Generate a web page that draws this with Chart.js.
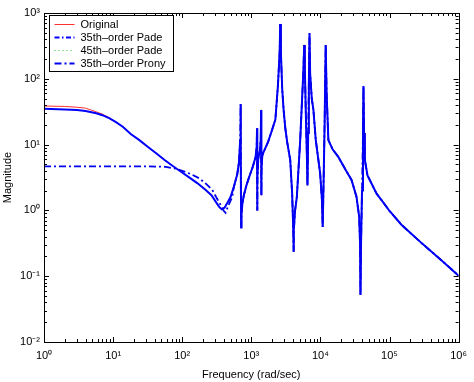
<!DOCTYPE html>
<html>
<head>
<meta charset="utf-8">
<script src="https://cdn.jsdelivr.net/npm/chart.js@4"></script>
<style>
    body { margin: 0; background: #fff; }
    #wrap { width: 474px; height: 382px; }
</style>
</head>
<body>
<div id="wrap"><canvas id="magChart" width="474" height="382"></canvas></div>
<script>
// frequency points (rad/sec) shared by the original and Pade curves
const freqs = [
    1, 2, 3, 4, 5.7, 7, 8.9, 11, 13.8, 18,
    24, 32, 42, 55, 73, 95, 126, 165, 219, 265,
    305, 345, 373, 410, 460, 502, 560, 625, 665, 690,
    699, 706, 713, 722, 745, 780, 850, 920, 1050, 1150,
    1195, 1210, 1216, 1220, 1230, 1260, 1330, 1370, 1384, 1392,
    1398, 1410, 1440, 1514, 1750, 1995, 2230, 2430, 2570, 2620,
    2680, 2800, 2935, 3100, 3300, 3660, 3900, 4050, 4090, 4130,
    4300, 4560, 5100, 5380, 5650, 5830, 5950, 6150, 6350, 6500,
    6650, 6800, 6950, 7100, 7500, 7920, 8570, 9910, 10500, 10790,
    11100, 11500, 11920, 12300, 13040, 15000, 18150, 23000, 28200, 33270,
    36400, 37500, 38000, 38700, 40000, 41300, 42000, 42800, 44000, 48000,
    54700, 65000, 80000, 100000, 150000, 300000, 600000, 1000000
];

// magnitude of the Pade fits
const padeMag = [
    35, 34.3, 33.5, 32.3, 29.9, 28, 25, 22, 18.7, 14.5,
    11.7, 9.2, 7.4, 5.9, 4.73, 3.9, 3.18, 2.6, 2.04, 1.7,
    1.36, 1.12, 1.04, 1.1, 1.35, 1.61, 2.3, 3.5, 5.5, 12,
    41, 8, 0.55, 0.9, 1.3, 1.7, 2.4, 3.1, 4.6, 6.4,
    9, 17.7, 3, 1.0, 3, 6.1, 8, 12, 33.6, 4,
    1.7, 4, 6.8, 7.8, 11, 16.7, 24, 80, 250, 681,
    250, 70, 33.6, 18, 11, 5.8, 1.8, 0.5, 0.236, 0.5,
    1.0, 1.61, 11.7, 40, 120, 327, 150, 30, 8, 2.4,
    15, 80, 491, 120, 50, 33.6, 11.7, 3.67, 1.5, 0.56,
    2.5, 20, 327, 60, 11.7, 8.5, 6.5, 4.2, 2.9, 1.61,
    0.8, 0.3, 0.052, 0.3, 2, 15, 77.8, 15, 5.8, 3.4,
    2.58, 1.8, 1.35, 0.98, 0.6, 0.31, 0.165, 0.102
];

// the original sits a bit higher at the lowest frequencies
const origMagLow = [38.6, 38, 37, 35.8, 31.5, 29, 25.5];

// Prony fit differs below ~560 rad/sec
const pronyFreqLow = [1, 10, 30, 58, 81, 100, 130, 176, 220, 273, 320, 360, 400, 425, 460, 530];
const pronyMagLow = [4.68, 4.68, 4.66, 4.6, 4.3, 4.0, 3.6, 3.08, 2.55, 2.04, 1.5, 1.21, 0.98, 0.92, 1.15, 1.61];

const xTickValues = [1, 10, 100, 1000, 10000, 100000, 1000000];
const xTickLabels = ['10\u2070', '10\u00b9', '10\u00b2', '10\u00b3', '10\u2074', '10\u2075', '10\u2076'];
const yTickValues = [0.01, 0.1, 1, 10, 100, 1000];
const yTickLabels = ['10\u207b\u00b2', '10\u207b\u00b9', '10\u2070', '10\u00b9', '10\u00b2', '10\u00b3'];

const FONT = "'Liberation Sans', Arial, Helvetica, sans-serif";

function toPoints(xs, ys) {
    return xs.map((x, i) => ({x: x, y: ys[i]}));
}

const origMag = origMagLow.concat(padeMag.slice(origMagLow.length));
const cut = freqs.indexOf(560);
const pronyFreq = pronyFreqLow.concat(freqs.slice(cut));
const pronyMag = pronyMagLow.concat(padeMag.slice(cut));

const series = [
    {label: 'Original', data: toPoints(freqs, origMag), color: '#ff3030', width: 1, dash: [], order: 4},
    {label: '35th\u2013order Pade', data: toPoints(freqs, padeMag), color: '#0000ff', width: 2, dash: [], order: 2,
        legendDash: [5, 2.5, 1.5, 2.5]},
    {label: '45th\u2013order Pade', data: toPoints(freqs, padeMag), color: '#33cc33', width: 1, dash: [1, 3], order: 3},
    {label: '35th\u2013order Prony', data: toPoints(pronyFreq, pronyMag), color: '#0000ee', width: 1.8, dash: [7, 3, 2, 3], order: 1}
];

// box, inward ticks on all four sides, and the legend
const framePlugin = {
    id: 'frame',
    afterDraw(chart) {
        const ctx = chart.ctx;
        const a = chart.chartArea;
        const xs = chart.scales.x, ys = chart.scales.y;
        ctx.save();
        ctx.strokeStyle = '#000';
        ctx.lineWidth = 1;

        ctx.beginPath();
        for (let d = 0; d < 6; d++) {
            for (let k = 1; k <= 9; k++) {
                const v = Math.pow(10, d) * k;
                const px = Math.round(xs.getPixelForValue(v)) + 0.5;
                const len = k === 1 ? 5 : 3;
                ctx.moveTo(px, a.bottom); ctx.lineTo(px, a.bottom - len);
                ctx.moveTo(px, a.top); ctx.lineTo(px, a.top + len);
            }
        }
        for (let d = -2; d < 3; d++) {
            for (let k = 1; k <= 9; k++) {
                const v = Math.pow(10, d) * k;
                const py = Math.round(ys.getPixelForValue(v)) + 0.5;
                const len = k === 1 ? 5 : 3;
                ctx.moveTo(a.left, py); ctx.lineTo(a.left + len, py);
                ctx.moveTo(a.right, py); ctx.lineTo(a.right - len, py);
            }
        }
        ctx.stroke();
        ctx.strokeRect(Math.round(a.left) + 0.5, Math.round(a.top) + 0.5,
            Math.round(a.right - a.left), Math.round(a.bottom - a.top));

        // legend
        const lx = a.left + 5.5, ly = a.top + 2.5, lw = 124, lh = 56;
        ctx.fillStyle = '#fff';
        ctx.fillRect(lx, ly, lw, lh);
        ctx.strokeRect(lx, ly, lw, lh);
        ctx.font = '11px ' + FONT;
        ctx.textBaseline = 'middle';
        series.forEach((s, i) => {
            const y = ly + 9 + i * 13;
            ctx.beginPath();
            ctx.strokeStyle = s.color;
            ctx.lineWidth = s.width;
            ctx.setLineDash(s.legendDash || s.dash);
            ctx.moveTo(lx + 5, y);
            ctx.lineTo(lx + 25, y);
            ctx.stroke();
            ctx.setLineDash([]);
            ctx.fillStyle = '#000';
            ctx.fillText(s.label, lx + 31, y + 0.5);
        });
        ctx.restore();
    }
};

function initializeChart() {
    const ctx = document.getElementById('magChart');
    return new Chart(ctx, {
        type: 'line',
        data: {
            datasets: series.map(s => ({
                label: s.label,
                data: s.data,
                borderColor: s.color,
                borderWidth: s.width,
                borderDash: s.dash,
                pointRadius: 0,
                tension: 0,
                fill: false,
                order: s.order
            }))
        },
        options: {
            responsive: false,
            animation: false,
            devicePixelRatio: 1,
            layout: {padding: {top: 13, right: 13, left: 0, bottom: 0}},
            plugins: {
                legend: {display: false},
                tooltip: {enabled: false}
            },
            scales: {
                x: {
                    type: 'logarithmic',
                    min: 1,
                    max: 1000000,
                    grid: {display: false, drawTicks: false},
                    border: {display: false},
                    afterBuildTicks: s => { s.ticks = xTickValues.map(v => ({value: v})); },
                    afterFit: s => { s.height = 40; },
                    ticks: {
                        autoSkip: false,
                        maxRotation: 0,
                        padding: 7,
                        color: '#000',
                        font: {family: FONT, size: 11},
                        callback: v => xTickLabels[xTickValues.indexOf(v)]
                    },
                    title: {
                        display: true,
                        text: 'Frequency (rad/sec)',
                        color: '#000',
                        font: {family: FONT, size: 11},
                        padding: {top: 0, bottom: 0}
                    }
                },
                y: {
                    type: 'logarithmic',
                    min: 0.01,
                    max: 1000,
                    grid: {display: false, drawTicks: false},
                    border: {display: false},
                    afterBuildTicks: s => { s.ticks = yTickValues.map(v => ({value: v})); },
                    afterFit: s => { s.width = 44; },
                    ticks: {
                        autoSkip: false,
                        padding: 4,
                        color: '#000',
                        font: {family: FONT, size: 11},
                        callback: v => yTickLabels[yTickValues.indexOf(v)]
                    },
                    title: {
                        display: true,
                        text: 'Magnitude',
                        color: '#000',
                        font: {family: FONT, size: 11},
                        padding: {top: 1, bottom: 0}
                    }
                }
            }
        },
        plugins: [framePlugin]
    });
}

document.addEventListener('DOMContentLoaded', () => {
    initializeChart();
});
</script>
</body>
</html>
